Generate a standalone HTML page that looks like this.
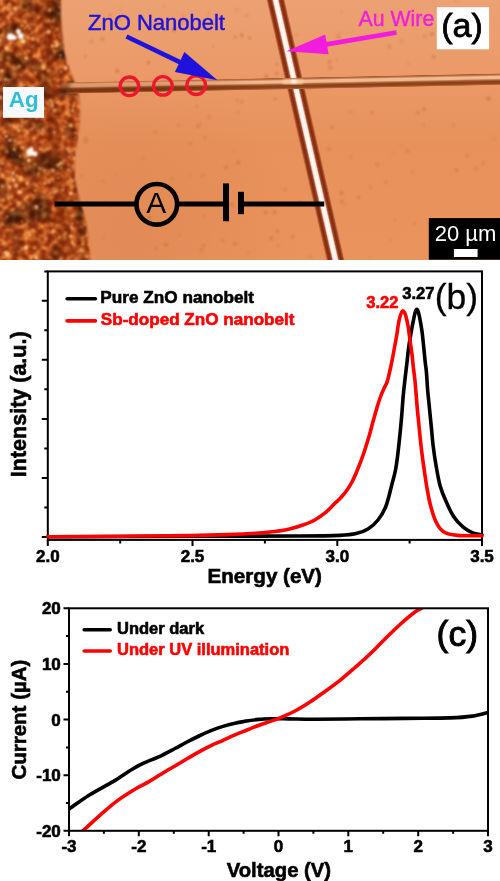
<!DOCTYPE html>
<html><head><meta charset="utf-8"><title>ZnO nanobelt figure</title>
<style>html,body{margin:0;padding:0;background:#fff;width:500px;height:881px;overflow:hidden}svg{display:block}</style></head><body>
<svg width="500" height="881" viewBox="0 0 500 881">
<rect width="500" height="881" fill="#fff"/>
<g id="pa">
<defs><clipPath id="clipA"><rect x="0" y="0" width="500" height="260"/></clipPath><linearGradient id="subg" x1="0" y1="0" x2="0" y2="1"><stop offset="0" stop-color="#ECA173"/><stop offset="0.28" stop-color="#EB9A68"/><stop offset="0.55" stop-color="#E8915B"/><stop offset="1" stop-color="#EA935D"/></linearGradient><radialGradient id="subr" cx="130" cy="240" r="170" gradientUnits="userSpaceOnUse"><stop offset="0" stop-color="#B05020" stop-opacity="0.13"/><stop offset="1" stop-color="#B05020" stop-opacity="0"/></radialGradient><filter id="agtex" x="0" y="0" width="100%" height="100%" color-interpolation-filters="sRGB"><feTurbulence type="fractalNoise" baseFrequency="0.17" numOctaves="2" seed="11" result="n"/><feColorMatrix in="n" type="matrix" values="1 0 0 0 0  1 0 0 0 0  1 0 0 0 0  0 0 0 0 1" result="g"/><feGaussianBlur in="g" stdDeviation="1.1" result="gb"/><feComponentTransfer in="gb" result="col"><feFuncR type="table" tableValues="0.42 0.42 0.47 0.54 0.62 0.71 0.81 0.9 0.95 0.98 1"/><feFuncG type="table" tableValues="0.12 0.12 0.14 0.18 0.23 0.3 0.4 0.52 0.64 0.74 0.84"/><feFuncB type="table" tableValues="0.03 0.03 0.04 0.05 0.07 0.11 0.16 0.24 0.34 0.44 0.54"/></feComponentTransfer><feTurbulence type="fractalNoise" baseFrequency="0.04" numOctaves="2" seed="4" result="lo"/><feColorMatrix in="lo" type="matrix" values="1.8 0 0 0 0.06  1.8 0 0 0 0.06  1.8 0 0 0 0.06  0 0 0 0 1" result="lom"/><feBlend in="col" in2="lom" mode="multiply" result="bl"/><feGaussianBlur in="bl" stdDeviation="0.6"/></filter><filter id="blur1"><feGaussianBlur stdDeviation="0.8"/></filter><filter id="blur2"><feGaussianBlur stdDeviation="1.6"/></filter><filter id="blur05"><feGaussianBlur stdDeviation="0.5"/></filter><filter id="blur07"><feGaussianBlur stdDeviation="0.7"/></filter><filter id="blur08" x="-0.1" y="-0.1" width="1.2" height="1.2"><feGaussianBlur stdDeviation="0.8"/></filter><linearGradient id="wireg" x1="0" y1="0" x2="0" y2="1"><stop offset="0" stop-color="#D27C4C"/><stop offset="0.1" stop-color="#963818"/><stop offset="0.2" stop-color="#7E2A10"/><stop offset="0.3" stop-color="#A84A28"/><stop offset="0.38" stop-color="#FAE6D8"/><stop offset="0.5" stop-color="#FFFFFF"/><stop offset="0.62" stop-color="#FAE6D8"/><stop offset="0.7" stop-color="#A84A28"/><stop offset="0.8" stop-color="#7E2A10"/><stop offset="0.9" stop-color="#963818"/><stop offset="1" stop-color="#D27C4C"/></linearGradient><linearGradient id="beltg" x1="0" y1="0" x2="0" y2="1"><stop offset="0" stop-color="#D08050" stop-opacity="0"/><stop offset="0.08" stop-color="#BE7044"/><stop offset="0.2" stop-color="#DEA074"/><stop offset="0.42" stop-color="#D8966A"/><stop offset="0.54" stop-color="#9A4C22"/><stop offset="0.66" stop-color="#7A3212"/><stop offset="0.86" stop-color="#7E3614"/><stop offset="0.95" stop-color="#B06436"/><stop offset="1" stop-color="#D08050" stop-opacity="0"/></linearGradient><linearGradient id="beltg2" x1="0" y1="0" x2="0" y2="1"><stop offset="0" stop-color="#D08050" stop-opacity="0"/><stop offset="0.06" stop-color="#A85A30"/><stop offset="0.16" stop-color="#C47A4C"/><stop offset="0.26" stop-color="#F0BC94"/><stop offset="0.44" stop-color="#EEB890"/><stop offset="0.55" stop-color="#B86838"/><stop offset="0.68" stop-color="#8A4018"/><stop offset="0.85" stop-color="#924620"/><stop offset="0.95" stop-color="#B86A3C"/><stop offset="1" stop-color="#D08050" stop-opacity="0"/></linearGradient><linearGradient id="beltfade2" x1="170" y1="0" x2="262" y2="0" gradientUnits="userSpaceOnUse"><stop offset="0" stop-color="#fff" stop-opacity="0"/><stop offset="1" stop-color="#fff" stop-opacity="1"/></linearGradient><mask id="beltmask2" maskUnits="userSpaceOnUse" x="0" y="0" width="500" height="260"><rect x="0" y="0" width="500" height="260" fill="url(#beltfade2)"/></mask></defs>
<g clip-path="url(#clipA)">
<rect x="0" y="0" width="500" height="260" fill="url(#subg)"/>
<rect x="0" y="0" width="500" height="260" fill="url(#subr)"/>
<g fill="#A85420" filter="url(#blur1)"><circle cx="341.6" cy="192.9" r="1.9" fill-opacity="0.39"/><circle cx="390.8" cy="239.8" r="1.0" fill-opacity="0.27"/><circle cx="476.2" cy="168.7" r="2.0" fill-opacity="0.18"/><circle cx="277.0" cy="64.1" r="1.6" fill-opacity="0.29"/><circle cx="85.5" cy="56.3" r="1.3" fill-opacity="0.38"/><circle cx="401.6" cy="41.5" r="1.9" fill-opacity="0.18"/><circle cx="339.3" cy="32.9" r="1.0" fill-opacity="0.37"/><circle cx="168.0" cy="56.0" r="2.1" fill-opacity="0.37"/><circle cx="201.5" cy="250.0" r="1.6" fill-opacity="0.32"/><circle cx="166.0" cy="244.7" r="1.8" fill-opacity="0.39"/><circle cx="455.4" cy="77.7" r="1.4" fill-opacity="0.19"/><circle cx="141.2" cy="16.9" r="1.3" fill-opacity="0.30"/><circle cx="81.4" cy="176.3" r="1.4" fill-opacity="0.23"/><circle cx="423.8" cy="125.0" r="1.3" fill-opacity="0.27"/><circle cx="376.0" cy="14.8" r="2.1" fill-opacity="0.16"/><circle cx="394.9" cy="219.7" r="1.0" fill-opacity="0.35"/><circle cx="233.8" cy="150.4" r="1.0" fill-opacity="0.16"/><circle cx="156.0" cy="248.3" r="1.2" fill-opacity="0.34"/><circle cx="470.5" cy="244.9" r="1.4" fill-opacity="0.24"/><circle cx="300.4" cy="201.7" r="1.1" fill-opacity="0.34"/><circle cx="414.8" cy="223.5" r="1.0" fill-opacity="0.39"/><circle cx="118.3" cy="88.6" r="1.7" fill-opacity="0.38"/><circle cx="222.8" cy="240.3" r="1.6" fill-opacity="0.23"/><circle cx="213.1" cy="46.1" r="1.1" fill-opacity="0.19"/><circle cx="369.5" cy="259.1" r="1.2" fill-opacity="0.16"/><circle cx="494.4" cy="138.7" r="1.4" fill-opacity="0.21"/><circle cx="329.5" cy="214.8" r="1.5" fill-opacity="0.26"/><circle cx="103.4" cy="238.2" r="1.0" fill-opacity="0.27"/><circle cx="432.1" cy="33.9" r="1.8" fill-opacity="0.39"/><circle cx="344.8" cy="204.9" r="1.1" fill-opacity="0.26"/><circle cx="142.7" cy="219.6" r="1.3" fill-opacity="0.26"/><circle cx="499.7" cy="221.6" r="2.1" fill-opacity="0.26"/><circle cx="285.0" cy="189.7" r="1.5" fill-opacity="0.22"/><circle cx="249.6" cy="38.1" r="1.4" fill-opacity="0.40"/><circle cx="483.1" cy="163.0" r="1.5" fill-opacity="0.23"/><circle cx="117.4" cy="70.8" r="1.9" fill-opacity="0.37"/><circle cx="231.8" cy="204.4" r="1.9" fill-opacity="0.32"/><circle cx="358.9" cy="197.5" r="1.4" fill-opacity="0.33"/><circle cx="198.0" cy="126.3" r="1.8" fill-opacity="0.32"/><circle cx="203.4" cy="245.8" r="1.7" fill-opacity="0.30"/><circle cx="84.9" cy="142.2" r="1.3" fill-opacity="0.32"/><circle cx="274.4" cy="212.3" r="1.7" fill-opacity="0.35"/><circle cx="226.1" cy="167.5" r="1.8" fill-opacity="0.36"/><circle cx="227.0" cy="219.1" r="2.0" fill-opacity="0.32"/><circle cx="490.0" cy="248.7" r="1.6" fill-opacity="0.28"/><circle cx="149.8" cy="217.5" r="2.0" fill-opacity="0.27"/><circle cx="370.4" cy="187.1" r="1.8" fill-opacity="0.19"/><circle cx="407.8" cy="151.0" r="1.7" fill-opacity="0.26"/><circle cx="342.0" cy="201.4" r="1.7" fill-opacity="0.33"/><circle cx="91.6" cy="41.6" r="1.5" fill-opacity="0.31"/><circle cx="172.0" cy="178.3" r="1.7" fill-opacity="0.16"/><circle cx="278.1" cy="58.8" r="1.1" fill-opacity="0.18"/><circle cx="213.3" cy="47.2" r="1.2" fill-opacity="0.16"/><circle cx="275.4" cy="98.9" r="1.7" fill-opacity="0.30"/><circle cx="179.9" cy="234.8" r="1.0" fill-opacity="0.25"/><circle cx="197.0" cy="106.6" r="1.1" fill-opacity="0.36"/><circle cx="237.0" cy="9.4" r="1.7" fill-opacity="0.17"/><circle cx="309.0" cy="88.2" r="1.6" fill-opacity="0.39"/><circle cx="423.8" cy="109.0" r="1.9" fill-opacity="0.31"/><circle cx="235.2" cy="36.9" r="1.7" fill-opacity="0.29"/><circle cx="482.0" cy="251.7" r="1.7" fill-opacity="0.24"/><circle cx="455.3" cy="0.2" r="1.1" fill-opacity="0.29"/><circle cx="338.4" cy="36.6" r="1.7" fill-opacity="0.37"/><circle cx="237.9" cy="112.2" r="1.2" fill-opacity="0.22"/><circle cx="488.4" cy="98.7" r="2.1" fill-opacity="0.38"/><circle cx="330.2" cy="67.6" r="2.1" fill-opacity="0.27"/><circle cx="254.5" cy="83.0" r="2.1" fill-opacity="0.27"/><circle cx="200.3" cy="124.0" r="1.1" fill-opacity="0.31"/><circle cx="266.3" cy="76.2" r="1.9" fill-opacity="0.36"/><circle cx="85.5" cy="138.5" r="1.3" fill-opacity="0.38"/><circle cx="408.4" cy="63.9" r="1.3" fill-opacity="0.19"/><circle cx="495.3" cy="76.2" r="1.7" fill-opacity="0.27"/><circle cx="350.8" cy="157.0" r="1.8" fill-opacity="0.18"/><circle cx="399.4" cy="78.2" r="1.6" fill-opacity="0.23"/><circle cx="204.7" cy="137.8" r="1.5" fill-opacity="0.24"/><circle cx="392.9" cy="153.6" r="1.0" fill-opacity="0.21"/><circle cx="271.4" cy="238.3" r="2.0" fill-opacity="0.29"/><circle cx="86.1" cy="202.4" r="1.5" fill-opacity="0.29"/><circle cx="377.4" cy="164.4" r="1.5" fill-opacity="0.38"/><circle cx="241.9" cy="101.9" r="1.9" fill-opacity="0.20"/><circle cx="204.5" cy="215.8" r="1.1" fill-opacity="0.36"/><circle cx="371.7" cy="112.5" r="1.3" fill-opacity="0.35"/><circle cx="462.5" cy="37.1" r="1.5" fill-opacity="0.29"/><circle cx="289.0" cy="86.0" r="1.2" fill-opacity="0.30"/><circle cx="421.0" cy="17.8" r="1.3" fill-opacity="0.35"/><circle cx="412.5" cy="172.5" r="1.0" fill-opacity="0.33"/><circle cx="491.0" cy="259.6" r="1.8" fill-opacity="0.16"/><circle cx="433.7" cy="57.0" r="1.7" fill-opacity="0.39"/><circle cx="379.2" cy="35.0" r="1.3" fill-opacity="0.38"/><circle cx="142.9" cy="158.8" r="1.5" fill-opacity="0.19"/><circle cx="341.4" cy="11.3" r="1.1" fill-opacity="0.24"/><circle cx="110.2" cy="15.0" r="1.6" fill-opacity="0.34"/><circle cx="449.0" cy="34.9" r="1.5" fill-opacity="0.23"/><circle cx="332.1" cy="127.3" r="2.0" fill-opacity="0.24"/><circle cx="103.4" cy="181.3" r="1.2" fill-opacity="0.31"/><circle cx="292.5" cy="236.7" r="1.6" fill-opacity="0.31"/><circle cx="190.6" cy="143.4" r="1.3" fill-opacity="0.34"/><circle cx="297.1" cy="34.8" r="1.3" fill-opacity="0.24"/><circle cx="389.4" cy="46.6" r="1.8" fill-opacity="0.31"/><circle cx="115.8" cy="173.7" r="1.1" fill-opacity="0.18"/><circle cx="329.5" cy="62.0" r="2.0" fill-opacity="0.27"/><circle cx="215.8" cy="207.1" r="1.0" fill-opacity="0.33"/><circle cx="102.5" cy="39.2" r="2.0" fill-opacity="0.32"/><circle cx="173.7" cy="30.2" r="2.1" fill-opacity="0.32"/><circle cx="424.7" cy="36.3" r="1.7" fill-opacity="0.24"/><circle cx="178.7" cy="86.6" r="1.7" fill-opacity="0.24"/><circle cx="242.0" cy="35.5" r="1.9" fill-opacity="0.31"/><circle cx="417.9" cy="112.7" r="1.9" fill-opacity="0.28"/><circle cx="328.9" cy="149.0" r="1.8" fill-opacity="0.25"/><circle cx="120.7" cy="8.6" r="1.2" fill-opacity="0.16"/><circle cx="453.5" cy="125.1" r="1.8" fill-opacity="0.15"/><circle cx="277.5" cy="231.3" r="1.7" fill-opacity="0.26"/><circle cx="275.5" cy="25.9" r="1.2" fill-opacity="0.19"/><circle cx="237.3" cy="100.3" r="2.0" fill-opacity="0.19"/><circle cx="186.7" cy="72.1" r="1.2" fill-opacity="0.22"/><circle cx="178.8" cy="125.3" r="1.0" fill-opacity="0.38"/><circle cx="235.0" cy="243.9" r="1.8" fill-opacity="0.32"/><circle cx="278.1" cy="245.8" r="1.1" fill-opacity="0.32"/><circle cx="202.3" cy="175.4" r="1.8" fill-opacity="0.19"/><circle cx="164.4" cy="6.5" r="1.3" fill-opacity="0.17"/><circle cx="248.4" cy="253.1" r="1.4" fill-opacity="0.23"/><circle cx="276.6" cy="73.6" r="1.8" fill-opacity="0.33"/><circle cx="148.6" cy="62.5" r="1.7" fill-opacity="0.39"/><circle cx="351.3" cy="112.0" r="2.1" fill-opacity="0.15"/><circle cx="105.6" cy="202.6" r="1.5" fill-opacity="0.16"/><circle cx="310.3" cy="257.3" r="1.6" fill-opacity="0.24"/><circle cx="119.4" cy="18.5" r="2.0" fill-opacity="0.27"/><circle cx="473.0" cy="14.0" r="1.3" fill-opacity="0.16"/><circle cx="246.9" cy="15.6" r="1.3" fill-opacity="0.25"/><circle cx="208.5" cy="13.3" r="1.0" fill-opacity="0.39"/><circle cx="155.3" cy="132.2" r="1.4" fill-opacity="0.28"/><circle cx="115.4" cy="81.6" r="1.1" fill-opacity="0.29"/><circle cx="466.9" cy="155.6" r="1.9" fill-opacity="0.20"/><circle cx="87.3" cy="140.3" r="1.5" fill-opacity="0.29"/><circle cx="238.2" cy="162.5" r="1.8" fill-opacity="0.38"/><circle cx="209.2" cy="116.8" r="1.9" fill-opacity="0.21"/><circle cx="128.6" cy="81.0" r="1.1" fill-opacity="0.34"/><circle cx="424.2" cy="81.3" r="1.1" fill-opacity="0.17"/><circle cx="182.8" cy="21.9" r="1.5" fill-opacity="0.29"/><circle cx="183.1" cy="16.0" r="1.8" fill-opacity="0.16"/><circle cx="163.9" cy="74.4" r="1.4" fill-opacity="0.17"/><circle cx="256.6" cy="81.6" r="1.8" fill-opacity="0.29"/><circle cx="456.4" cy="170.1" r="1.8" fill-opacity="0.29"/><circle cx="265.7" cy="212.4" r="1.7" fill-opacity="0.39"/><circle cx="385.8" cy="182.3" r="1.3" fill-opacity="0.35"/><circle cx="240.6" cy="33.9" r="1.1" fill-opacity="0.19"/><circle cx="190.3" cy="175.7" r="1.3" fill-opacity="0.17"/><circle cx="400.8" cy="144.9" r="1.0" fill-opacity="0.16"/><circle cx="134.6" cy="92.9" r="1.9" fill-opacity="0.39"/><circle cx="337.0" cy="60.1" r="1.5" fill-opacity="0.24"/></g>
<defs><mask id="clipAg" maskUnits="userSpaceOnUse" x="-10" y="-10" width="130" height="290"><path d="M-2 -2 L60.6 -2 C60.7 0.8 60.8 9.7 61.0 15.0 C61.2 20.3 61.6 25.0 62.0 30.0 C62.4 35.0 62.8 40.2 63.5 45.0 C64.2 49.8 64.6 54.0 66.0 59.0 C67.4 64.0 70.1 70.5 71.8 75.0 C73.5 79.5 74.8 82.3 76.0 86.0 C77.2 89.7 78.4 93.0 79.0 97.0 C79.6 101.0 79.7 105.8 79.8 110.0 C79.9 114.2 79.9 117.3 79.6 122.0 C79.3 126.7 78.5 132.7 77.8 138.0 C77.1 143.3 75.7 148.7 75.2 154.0 C74.7 159.3 74.5 164.8 74.6 170.0 C74.7 175.2 75.2 180.0 76.0 185.0 C76.8 190.0 78.2 195.0 79.6 200.0 C81.0 205.0 82.9 210.0 84.2 215.0 C85.5 220.0 86.6 225.0 87.4 230.0 C88.2 235.0 88.6 240.3 89.0 245.0 C89.4 249.7 89.6 255.2 89.8 258.0 C90.0 260.8 90.0 261.3 90.0 262.0 L-2 262 Z" fill="#fff" filter="url(#blur08)"/></mask></defs>
<g mask="url(#clipAg)">
<rect x="-10" y="-10" width="120" height="280" fill="#9A3C10"/>
<rect x="-10" y="-10" width="120" height="280" filter="url(#agtex)"/>
<path d="M40 0 C45 60 50 120 52 180 C55 220 60 250 62 262 L72 262 C70 240 66 200 62 160 C58 110 54 60 50 0 Z" fill="#6A2006" fill-opacity="0.35" filter="url(#blur2)"/>
<g filter="url(#blur08)"><circle cx="13.5" cy="180.1" r="1.6" fill="#FFE0A4" fill-opacity="0.88"/><circle cx="91.0" cy="123.3" r="2.0" fill="#FCC474" fill-opacity="0.73"/><circle cx="20.2" cy="-1.2" r="1.3" fill="#FAB868" fill-opacity="0.69"/><circle cx="11.6" cy="196.3" r="1.9" fill="#F4A050" fill-opacity="0.52"/><circle cx="91.8" cy="193.0" r="1.9" fill="#FAB868" fill-opacity="0.70"/><circle cx="87.9" cy="140.6" r="1.7" fill="#F4A050" fill-opacity="0.93"/><circle cx="32.6" cy="38.9" r="1.8" fill="#F8B060" fill-opacity="0.86"/><circle cx="-0.2" cy="40.5" r="1.7" fill="#FFE0A4" fill-opacity="0.72"/><circle cx="15.6" cy="7.8" r="1.9" fill="#FCC474" fill-opacity="0.53"/><circle cx="16.6" cy="175.9" r="1.8" fill="#F4A050" fill-opacity="0.84"/><circle cx="69.7" cy="151.3" r="1.7" fill="#F8B060" fill-opacity="0.75"/><circle cx="50.5" cy="100.4" r="1.3" fill="#FCC474" fill-opacity="0.90"/><circle cx="36.5" cy="94.4" r="1.4" fill="#FFE0A4" fill-opacity="0.64"/><circle cx="43.5" cy="68.1" r="1.8" fill="#FCC474" fill-opacity="0.82"/><circle cx="91.3" cy="128.9" r="1.4" fill="#FAB868" fill-opacity="0.77"/><circle cx="47.1" cy="148.9" r="1.3" fill="#FAB868" fill-opacity="0.55"/><circle cx="60.9" cy="163.4" r="1.8" fill="#FFD488" fill-opacity="0.66"/><circle cx="54.1" cy="78.9" r="1.0" fill="#F8B060" fill-opacity="0.92"/><circle cx="14.4" cy="111.2" r="1.1" fill="#F8B060" fill-opacity="0.80"/><circle cx="82.5" cy="251.0" r="1.3" fill="#FCC474" fill-opacity="0.93"/><circle cx="53.5" cy="231.2" r="1.4" fill="#FFE0A4" fill-opacity="0.80"/><circle cx="86.0" cy="62.9" r="1.5" fill="#FFE0A4" fill-opacity="0.86"/><circle cx="70.7" cy="125.6" r="1.8" fill="#F8B060" fill-opacity="0.88"/><circle cx="59.9" cy="7.2" r="1.2" fill="#FFE0A4" fill-opacity="0.53"/><circle cx="29.8" cy="235.4" r="2.0" fill="#F4A050" fill-opacity="0.83"/><circle cx="2.6" cy="34.9" r="1.6" fill="#F4A050" fill-opacity="0.72"/><circle cx="87.6" cy="235.5" r="1.3" fill="#FCC474" fill-opacity="0.90"/><circle cx="54.5" cy="110.5" r="1.5" fill="#FFE0A4" fill-opacity="0.64"/><circle cx="48.2" cy="70.9" r="1.7" fill="#F8B060" fill-opacity="0.67"/><circle cx="9.8" cy="186.9" r="1.2" fill="#FFD488" fill-opacity="0.79"/><circle cx="78.1" cy="152.3" r="1.2" fill="#FFE0A4" fill-opacity="0.84"/><circle cx="74.3" cy="34.6" r="1.1" fill="#FFE0A4" fill-opacity="0.54"/><circle cx="0.4" cy="116.0" r="1.1" fill="#F8B060" fill-opacity="0.79"/><circle cx="9.9" cy="140.2" r="1.3" fill="#FFE0A4" fill-opacity="0.90"/><circle cx="56.4" cy="45.9" r="1.8" fill="#FCC474" fill-opacity="0.82"/><circle cx="49.7" cy="10.2" r="1.7" fill="#F4A050" fill-opacity="0.85"/><circle cx="72.3" cy="0.1" r="1.4" fill="#F8B060" fill-opacity="0.68"/><circle cx="51.3" cy="223.6" r="1.2" fill="#F4A050" fill-opacity="0.77"/><circle cx="68.1" cy="62.6" r="1.1" fill="#F4A050" fill-opacity="0.91"/><circle cx="25.7" cy="130.8" r="1.5" fill="#FAB868" fill-opacity="0.54"/><circle cx="54.5" cy="132.2" r="1.7" fill="#FAB868" fill-opacity="0.64"/><circle cx="63.7" cy="136.8" r="1.5" fill="#F8B060" fill-opacity="0.78"/><circle cx="28.6" cy="51.1" r="1.0" fill="#F4A050" fill-opacity="0.95"/><circle cx="8.1" cy="18.1" r="1.0" fill="#FFE0A4" fill-opacity="0.73"/><circle cx="87.0" cy="177.5" r="1.7" fill="#FFE0A4" fill-opacity="0.73"/><circle cx="34.6" cy="104.0" r="1.1" fill="#F8B060" fill-opacity="0.80"/><circle cx="2.0" cy="70.8" r="1.5" fill="#FFE0A4" fill-opacity="0.83"/><circle cx="40.9" cy="60.4" r="1.3" fill="#FFE0A4" fill-opacity="0.60"/><circle cx="84.0" cy="170.7" r="0.9" fill="#FCC474" fill-opacity="0.72"/><circle cx="65.4" cy="233.1" r="1.8" fill="#F4A050" fill-opacity="0.78"/><circle cx="56.2" cy="191.0" r="1.6" fill="#F4A050" fill-opacity="0.62"/><circle cx="43.2" cy="129.7" r="1.2" fill="#FFE0A4" fill-opacity="0.87"/><circle cx="88.6" cy="259.2" r="0.9" fill="#FFD488" fill-opacity="0.59"/><circle cx="80.3" cy="187.1" r="1.0" fill="#FCC474" fill-opacity="0.54"/><circle cx="26.4" cy="247.1" r="1.7" fill="#FFE0A4" fill-opacity="0.94"/><circle cx="91.1" cy="41.9" r="1.4" fill="#F4A050" fill-opacity="0.65"/><circle cx="58.3" cy="178.0" r="1.2" fill="#F8B060" fill-opacity="0.64"/><circle cx="21.9" cy="221.2" r="1.1" fill="#F4A050" fill-opacity="0.73"/><circle cx="20.4" cy="179.7" r="1.7" fill="#FCC474" fill-opacity="0.92"/><circle cx="41.9" cy="113.3" r="1.6" fill="#FFD488" fill-opacity="0.80"/><circle cx="60.8" cy="162.1" r="1.0" fill="#FCC474" fill-opacity="0.52"/><circle cx="74.2" cy="244.8" r="1.7" fill="#F8B060" fill-opacity="0.53"/><circle cx="52.5" cy="103.1" r="1.4" fill="#FFE0A4" fill-opacity="0.61"/><circle cx="-1.3" cy="141.7" r="1.0" fill="#FFD488" fill-opacity="0.59"/><circle cx="32.8" cy="-1.2" r="1.1" fill="#FAB868" fill-opacity="0.86"/><circle cx="75.3" cy="137.8" r="1.0" fill="#FCC474" fill-opacity="0.69"/><circle cx="81.0" cy="62.5" r="1.5" fill="#FAB868" fill-opacity="0.92"/><circle cx="81.1" cy="2.6" r="1.5" fill="#F8B060" fill-opacity="0.70"/><circle cx="76.3" cy="259.1" r="1.6" fill="#FCC474" fill-opacity="0.53"/><circle cx="74.6" cy="158.1" r="1.6" fill="#FFE0A4" fill-opacity="0.81"/><circle cx="61.6" cy="38.3" r="1.1" fill="#FFD488" fill-opacity="0.63"/><circle cx="56.9" cy="233.0" r="1.0" fill="#F8B060" fill-opacity="0.58"/><circle cx="7.2" cy="216.7" r="1.3" fill="#FFD488" fill-opacity="0.53"/><circle cx="1.5" cy="128.7" r="1.6" fill="#F4A050" fill-opacity="0.68"/><circle cx="1.0" cy="59.4" r="1.3" fill="#FFD488" fill-opacity="0.68"/><circle cx="62.9" cy="190.1" r="1.5" fill="#F8B060" fill-opacity="0.65"/><circle cx="18.6" cy="130.7" r="1.7" fill="#FAB868" fill-opacity="0.74"/><circle cx="57.1" cy="44.0" r="1.7" fill="#FFE0A4" fill-opacity="0.72"/><circle cx="79.2" cy="114.6" r="0.9" fill="#FFD488" fill-opacity="0.81"/><circle cx="18.4" cy="203.3" r="1.9" fill="#FAB868" fill-opacity="0.77"/><circle cx="8.5" cy="80.0" r="1.1" fill="#FFE0A4" fill-opacity="0.92"/><circle cx="72.6" cy="1.0" r="1.3" fill="#FAB868" fill-opacity="0.62"/><circle cx="0.4" cy="97.3" r="1.7" fill="#FCC474" fill-opacity="0.92"/><circle cx="48.4" cy="230.8" r="1.1" fill="#FAB868" fill-opacity="0.75"/><circle cx="70.9" cy="193.3" r="1.9" fill="#FFD488" fill-opacity="0.91"/><circle cx="20.5" cy="156.2" r="1.3" fill="#F4A050" fill-opacity="0.87"/><circle cx="32.0" cy="32.6" r="0.9" fill="#FFE0A4" fill-opacity="0.93"/><circle cx="69.0" cy="257.9" r="1.7" fill="#F4A050" fill-opacity="0.55"/><circle cx="85.2" cy="136.1" r="1.9" fill="#FAB868" fill-opacity="0.63"/><circle cx="13.1" cy="172.8" r="1.6" fill="#FFE0A4" fill-opacity="0.85"/><circle cx="68.6" cy="169.8" r="1.2" fill="#FFE0A4" fill-opacity="0.87"/><circle cx="18.9" cy="124.0" r="0.9" fill="#FFE0A4" fill-opacity="0.59"/><circle cx="72.2" cy="86.7" r="1.4" fill="#FFD488" fill-opacity="0.83"/><circle cx="66.7" cy="260.3" r="1.3" fill="#FFE0A4" fill-opacity="0.51"/><circle cx="71.1" cy="226.8" r="1.2" fill="#FFE0A4" fill-opacity="0.59"/><circle cx="19.4" cy="191.8" r="1.8" fill="#FFE0A4" fill-opacity="0.80"/><circle cx="0.5" cy="239.9" r="1.0" fill="#FFD488" fill-opacity="0.71"/><circle cx="34.6" cy="163.9" r="1.6" fill="#F4A050" fill-opacity="0.53"/><circle cx="22.1" cy="25.6" r="1.6" fill="#F4A050" fill-opacity="0.85"/><circle cx="72.5" cy="243.0" r="1.1" fill="#FFD488" fill-opacity="0.90"/><circle cx="5.3" cy="79.3" r="1.6" fill="#FCC474" fill-opacity="0.84"/><circle cx="85.9" cy="25.5" r="1.6" fill="#F4A050" fill-opacity="0.60"/><circle cx="17.5" cy="129.4" r="1.7" fill="#FCC474" fill-opacity="0.51"/><circle cx="82.6" cy="241.3" r="1.5" fill="#F8B060" fill-opacity="0.59"/><circle cx="11.3" cy="13.2" r="1.7" fill="#FFE0A4" fill-opacity="0.53"/><circle cx="69.1" cy="156.9" r="1.5" fill="#F4A050" fill-opacity="0.60"/><circle cx="64.2" cy="126.8" r="1.5" fill="#FAB868" fill-opacity="0.67"/><circle cx="57.8" cy="165.8" r="1.3" fill="#FFD488" fill-opacity="0.68"/><circle cx="39.7" cy="169.1" r="1.7" fill="#FAB868" fill-opacity="0.60"/><circle cx="72.2" cy="3.2" r="1.6" fill="#FFE0A4" fill-opacity="0.88"/><circle cx="70.8" cy="236.2" r="1.7" fill="#FFD488" fill-opacity="0.72"/><circle cx="13.5" cy="209.0" r="1.3" fill="#FFD488" fill-opacity="0.63"/><circle cx="88.7" cy="118.6" r="1.1" fill="#F8B060" fill-opacity="0.78"/><circle cx="77.7" cy="56.3" r="1.0" fill="#FAB868" fill-opacity="0.79"/><circle cx="57.1" cy="30.3" r="1.0" fill="#F4A050" fill-opacity="0.81"/><circle cx="48.6" cy="20.4" r="1.2" fill="#FAB868" fill-opacity="0.76"/><circle cx="21.0" cy="112.0" r="1.8" fill="#FAB868" fill-opacity="0.81"/><circle cx="74.4" cy="103.5" r="2.0" fill="#F4A050" fill-opacity="0.66"/><circle cx="71.8" cy="7.1" r="1.4" fill="#FFE0A4" fill-opacity="0.85"/><circle cx="52.5" cy="46.1" r="1.9" fill="#F8B060" fill-opacity="0.85"/><circle cx="22.1" cy="122.5" r="1.2" fill="#FCC474" fill-opacity="0.63"/><circle cx="32.9" cy="127.6" r="1.2" fill="#FFD488" fill-opacity="0.52"/><circle cx="25.0" cy="21.9" r="1.3" fill="#FCC474" fill-opacity="0.84"/><circle cx="12.0" cy="79.4" r="1.0" fill="#F4A050" fill-opacity="0.80"/><circle cx="83.2" cy="11.0" r="1.7" fill="#FFE0A4" fill-opacity="0.73"/><circle cx="8.0" cy="254.7" r="1.1" fill="#FFD488" fill-opacity="0.83"/><circle cx="2.4" cy="163.3" r="1.6" fill="#FFE0A4" fill-opacity="0.58"/><circle cx="83.9" cy="110.3" r="1.1" fill="#F8B060" fill-opacity="0.60"/><circle cx="13.5" cy="252.4" r="0.9" fill="#FCC474" fill-opacity="0.88"/><circle cx="88.6" cy="63.7" r="1.3" fill="#FFE0A4" fill-opacity="0.59"/><circle cx="63.9" cy="235.3" r="1.1" fill="#FFD488" fill-opacity="0.72"/><circle cx="28.9" cy="233.3" r="1.8" fill="#FCC474" fill-opacity="0.63"/><circle cx="68.5" cy="181.9" r="1.7" fill="#F8B060" fill-opacity="0.90"/><circle cx="21.1" cy="261.1" r="1.3" fill="#FFE0A4" fill-opacity="0.87"/><circle cx="71.6" cy="188.5" r="0.9" fill="#FAB868" fill-opacity="0.62"/><circle cx="23.1" cy="207.7" r="1.6" fill="#F4A050" fill-opacity="0.60"/><circle cx="9.4" cy="4.4" r="1.1" fill="#FFE0A4" fill-opacity="0.94"/><circle cx="44.9" cy="183.2" r="1.5" fill="#FCC474" fill-opacity="0.79"/><circle cx="38.5" cy="173.3" r="1.2" fill="#FCC474" fill-opacity="0.73"/><circle cx="2.5" cy="186.3" r="1.7" fill="#FCC474" fill-opacity="0.70"/><circle cx="69.8" cy="10.8" r="1.6" fill="#F8B060" fill-opacity="0.58"/><circle cx="52.8" cy="170.3" r="1.9" fill="#FFD488" fill-opacity="0.69"/><circle cx="34.8" cy="190.3" r="1.0" fill="#FFD488" fill-opacity="0.50"/><circle cx="36.5" cy="207.0" r="1.9" fill="#FFE0A4" fill-opacity="0.78"/><circle cx="27.4" cy="183.3" r="1.8" fill="#FCC474" fill-opacity="0.74"/><circle cx="59.2" cy="164.4" r="1.1" fill="#FCC474" fill-opacity="0.87"/><circle cx="24.2" cy="204.8" r="0.9" fill="#FFD488" fill-opacity="0.52"/><circle cx="72.2" cy="181.0" r="1.5" fill="#F8B060" fill-opacity="0.86"/><circle cx="14.3" cy="149.3" r="1.5" fill="#FCC474" fill-opacity="0.88"/><circle cx="56.4" cy="42.6" r="1.7" fill="#F8B060" fill-opacity="0.58"/><circle cx="66.8" cy="106.9" r="1.3" fill="#F4A050" fill-opacity="0.68"/><circle cx="72.4" cy="223.7" r="1.7" fill="#F4A050" fill-opacity="0.52"/><circle cx="26.1" cy="58.1" r="1.8" fill="#FCC474" fill-opacity="0.95"/><circle cx="5.9" cy="252.6" r="1.9" fill="#FFE0A4" fill-opacity="0.82"/><circle cx="85.8" cy="46.4" r="1.7" fill="#FFE0A4" fill-opacity="0.94"/><circle cx="80.8" cy="238.7" r="1.0" fill="#F4A050" fill-opacity="0.75"/><circle cx="83.0" cy="244.3" r="1.8" fill="#F8B060" fill-opacity="0.78"/><circle cx="-1.2" cy="200.3" r="2.0" fill="#FAB868" fill-opacity="0.56"/><circle cx="57.7" cy="164.3" r="1.0" fill="#FFE0A4" fill-opacity="0.54"/><circle cx="36.3" cy="257.7" r="1.8" fill="#FFE0A4" fill-opacity="0.72"/><circle cx="22.9" cy="147.3" r="1.6" fill="#FCC474" fill-opacity="0.64"/><circle cx="85.2" cy="35.5" r="1.9" fill="#F4A050" fill-opacity="0.64"/><circle cx="22.6" cy="91.0" r="1.5" fill="#F8B060" fill-opacity="0.67"/><circle cx="46.0" cy="238.6" r="1.6" fill="#FCC474" fill-opacity="0.71"/><circle cx="42.4" cy="134.1" r="1.2" fill="#FAB868" fill-opacity="0.71"/><circle cx="70.5" cy="179.1" r="1.2" fill="#FAB868" fill-opacity="0.77"/><circle cx="43.4" cy="108.9" r="1.2" fill="#FFD488" fill-opacity="0.59"/><circle cx="14.9" cy="140.8" r="2.0" fill="#FCC474" fill-opacity="0.54"/><circle cx="66.0" cy="68.1" r="1.7" fill="#FFE0A4" fill-opacity="0.77"/><circle cx="23.4" cy="130.5" r="1.0" fill="#FAB868" fill-opacity="0.79"/><circle cx="57.1" cy="28.6" r="1.2" fill="#F8B060" fill-opacity="0.59"/><circle cx="48.6" cy="181.9" r="1.5" fill="#FAB868" fill-opacity="0.73"/><circle cx="73.0" cy="166.2" r="1.6" fill="#F4A050" fill-opacity="0.69"/><circle cx="62.3" cy="176.2" r="1.2" fill="#F4A050" fill-opacity="0.58"/><circle cx="16.1" cy="185.8" r="2.0" fill="#FFE0A4" fill-opacity="0.59"/><circle cx="61.0" cy="260.0" r="1.9" fill="#F4A050" fill-opacity="0.80"/><circle cx="35.3" cy="72.8" r="1.7" fill="#FCC474" fill-opacity="0.53"/><circle cx="32.1" cy="96.8" r="1.3" fill="#FFE0A4" fill-opacity="0.73"/><circle cx="22.8" cy="40.4" r="1.9" fill="#FCC474" fill-opacity="0.55"/><circle cx="59.6" cy="237.4" r="1.1" fill="#FAB868" fill-opacity="0.58"/><circle cx="53.9" cy="188.4" r="1.6" fill="#F8B060" fill-opacity="0.52"/><circle cx="2.8" cy="175.7" r="1.8" fill="#FAB868" fill-opacity="0.77"/><circle cx="13.8" cy="102.8" r="1.8" fill="#FFE0A4" fill-opacity="0.85"/><circle cx="90.3" cy="36.6" r="1.9" fill="#FFE0A4" fill-opacity="0.79"/><circle cx="40.1" cy="104.6" r="2.0" fill="#FFD488" fill-opacity="0.55"/><circle cx="61.0" cy="168.1" r="1.8" fill="#F8B060" fill-opacity="0.55"/><circle cx="29.7" cy="28.4" r="1.3" fill="#F4A050" fill-opacity="0.65"/><circle cx="35.7" cy="190.8" r="1.2" fill="#F4A050" fill-opacity="0.91"/><circle cx="3.1" cy="200.2" r="1.9" fill="#FAB868" fill-opacity="0.61"/><circle cx="31.6" cy="129.6" r="1.3" fill="#F8B060" fill-opacity="0.71"/><circle cx="36.7" cy="117.2" r="1.4" fill="#FFD488" fill-opacity="0.90"/><circle cx="73.3" cy="106.6" r="1.6" fill="#F8B060" fill-opacity="0.85"/><circle cx="67.6" cy="149.7" r="1.2" fill="#FFD488" fill-opacity="0.62"/><circle cx="72.7" cy="110.6" r="1.8" fill="#F4A050" fill-opacity="0.85"/><circle cx="33.7" cy="88.4" r="1.9" fill="#FCC474" fill-opacity="0.64"/><circle cx="77.1" cy="73.0" r="1.8" fill="#F4A050" fill-opacity="0.70"/><circle cx="88.4" cy="21.8" r="1.2" fill="#F4A050" fill-opacity="0.55"/><circle cx="44.8" cy="170.6" r="1.3" fill="#FFE0A4" fill-opacity="0.65"/><circle cx="19.4" cy="66.5" r="1.8" fill="#FCC474" fill-opacity="0.58"/><circle cx="68.5" cy="18.4" r="1.3" fill="#FFE0A4" fill-opacity="0.74"/><circle cx="88.8" cy="133.6" r="1.4" fill="#FAB868" fill-opacity="0.84"/><circle cx="11.6" cy="210.2" r="1.3" fill="#F4A050" fill-opacity="0.93"/><circle cx="44.4" cy="107.8" r="1.1" fill="#FFD488" fill-opacity="0.87"/><circle cx="-0.2" cy="169.2" r="1.1" fill="#FFD488" fill-opacity="0.77"/><circle cx="54.2" cy="192.2" r="1.5" fill="#FFE0A4" fill-opacity="0.63"/><circle cx="6.8" cy="151.8" r="1.2" fill="#F8B060" fill-opacity="0.81"/><circle cx="76.4" cy="62.5" r="1.4" fill="#FFE0A4" fill-opacity="0.69"/><circle cx="3.8" cy="257.4" r="1.7" fill="#FFD488" fill-opacity="0.51"/><circle cx="48.7" cy="31.8" r="2.0" fill="#FAB868" fill-opacity="0.93"/><circle cx="34.4" cy="247.6" r="1.4" fill="#F8B060" fill-opacity="0.76"/><circle cx="23.4" cy="163.9" r="1.0" fill="#F4A050" fill-opacity="0.64"/><circle cx="15.3" cy="9.0" r="2.0" fill="#FCC474" fill-opacity="0.76"/><circle cx="75.8" cy="133.1" r="1.1" fill="#FAB868" fill-opacity="0.74"/><circle cx="72.3" cy="256.3" r="1.2" fill="#F4A050" fill-opacity="0.79"/><circle cx="6.2" cy="136.4" r="1.3" fill="#FFE0A4" fill-opacity="0.85"/><circle cx="21.6" cy="126.2" r="1.6" fill="#FFD488" fill-opacity="0.61"/><circle cx="60.5" cy="55.3" r="1.1" fill="#FFE0A4" fill-opacity="0.82"/><circle cx="57.7" cy="102.3" r="1.5" fill="#F8B060" fill-opacity="0.74"/><circle cx="43.1" cy="66.3" r="1.9" fill="#FCC474" fill-opacity="0.58"/><circle cx="76.0" cy="34.7" r="1.9" fill="#FAB868" fill-opacity="0.60"/><circle cx="84.7" cy="165.6" r="1.1" fill="#FFD488" fill-opacity="0.88"/><circle cx="27.5" cy="226.3" r="1.0" fill="#FFD488" fill-opacity="0.63"/><circle cx="61.1" cy="71.9" r="1.3" fill="#FFD488" fill-opacity="0.59"/><circle cx="75.0" cy="46.4" r="1.8" fill="#FFD488" fill-opacity="0.89"/><circle cx="1.1" cy="205.1" r="1.2" fill="#FFD488" fill-opacity="0.79"/><circle cx="52.3" cy="105.5" r="1.6" fill="#FFD488" fill-opacity="0.65"/><circle cx="49.8" cy="194.1" r="1.0" fill="#F8B060" fill-opacity="0.86"/><circle cx="12.7" cy="175.6" r="1.4" fill="#FAB868" fill-opacity="0.57"/><circle cx="88.7" cy="113.2" r="1.7" fill="#FCC474" fill-opacity="0.57"/><circle cx="80.0" cy="134.6" r="0.9" fill="#FFE0A4" fill-opacity="0.55"/></g>
<g filter="url(#blur1)"><g fill="#FFF8F4"><circle cx="10.4" cy="36.8" r="3.6"/><circle cx="14" cy="37.5" r="2.6"/><circle cx="18.4" cy="31.5" r="2.4"/><circle cx="20.8" cy="36" r="3"/><circle cx="30" cy="152.2" r="3.6"/><circle cx="35" cy="153.8" r="2.6"/><circle cx="31.6" cy="148.6" r="1.6"/></g><g fill="#F8D080"><circle cx="23.2" cy="41.6" r="2.2"/><circle cx="6.4" cy="48" r="1.8"/><circle cx="28.8" cy="160.6" r="2"/></g></g>
</g>
<defs><linearGradient id="beltfade" x1="60" y1="0" x2="74" y2="0" gradientUnits="userSpaceOnUse"><stop offset="0" stop-color="#fff" stop-opacity="0"/><stop offset="1" stop-color="#fff" stop-opacity="1"/></linearGradient><mask id="beltmask" maskUnits="userSpaceOnUse" x="0" y="0" width="500" height="260"><rect x="0" y="0" width="500" height="260" fill="url(#beltfade)"/></mask></defs>
<g mask="url(#beltmask)"><g transform="translate(60.00 82.12) rotate(-1.163)"><rect x="0" y="0" width="445.0" height="12" fill="url(#beltg)"/></g></g>
<g mask="url(#beltmask2)"><g transform="translate(60.00 82.12) rotate(-1.163)"><rect x="0" y="0" width="445.0" height="12" fill="url(#beltg2)"/></g></g>
<g transform="translate(275.60 0.00) rotate(77.026)"><rect x="-20" y="-8.77" width="306.8" height="17.54" fill="url(#wireg)" transform="rotate(0)" /></g>
</g>
</g>
<g clip-path="url(#clipA)">
<g transform="translate(276.00 77.74) rotate(-1.163)"><rect x="0" y="0" width="30" height="12" fill="url(#beltg2)"/></g>
<g filter="url(#blur1)"><rect x="283" y="79.4" width="20" height="4.6" fill="#F6CCA6" fill-opacity="0.85"/><ellipse cx="294" cy="81.6" rx="3" ry="2.4" fill="#FFF4EA"/></g>
</g>
<g fill="none" stroke="#F0162C" stroke-width="3.3"><circle cx="129.4" cy="86.3" r="9.3"/><circle cx="162.9" cy="85.9" r="9.3"/><circle cx="196.2" cy="85.2" r="9.3"/></g>
<line x1="126.5" y1="36.5" x2="181.4" y2="62.9" stroke="#1E12DC" stroke-width="4.5"/><polygon points="217.5,80.2 174.9,71.9 184.4,52.1" fill="#1E12DC"/>
<text x="88" y="29.5" font-family='"Liberation Sans", Arial, sans-serif' font-size="22" fill="#1E12DC" stroke="#1E12DC" stroke-width="0.5">ZnO Nanobelt</text>
<line x1="396.5" y1="32.5" x2="324.9" y2="44.7" stroke="#F01EDC" stroke-width="4.8"/><polygon points="286.5,51.2 325.2,34.5 328.6,54.2" fill="#F01EDC"/>
<text x="358.5" y="26.3" font-family='"Liberation Sans", Arial, sans-serif' font-size="21.3" fill="#F01EDC" stroke="#F01EDC" stroke-width="0.4">Au Wire</text>
<g stroke="#000" fill="none"><line x1="54.5" y1="204" x2="136" y2="204" stroke-width="5"/><circle cx="156.8" cy="204.3" r="20.3" stroke-width="4.6"/><line x1="177" y1="204" x2="227" y2="204" stroke-width="5"/><line x1="226" y1="183.4" x2="226" y2="221.2" stroke-width="6"/><line x1="241" y1="191.8" x2="241" y2="214.2" stroke-width="6"/><line x1="241" y1="204" x2="324.2" y2="204" stroke-width="5"/></g>
<text x="156.2" y="213.2" text-anchor="middle" font-family='"Liberation Sans", Arial, sans-serif' font-size="30" fill="#000">A</text>
<rect x="3" y="87" width="41" height="30.8" fill="#F6F8FB"/>
<text x="23.8" y="107.2" text-anchor="middle" font-family='"Liberation Sans", Arial, sans-serif' font-weight="bold" font-size="22.4" fill="#30BED6">Ag</text>
<rect x="436.8" y="7.2" width="52.3" height="42.1" fill="#FFFFFF"/>
<text x="462" y="36.8" text-anchor="middle" font-family='"Liberation Sans", Arial, sans-serif' font-size="34" fill="#000" stroke="#000" stroke-width="0.8">(a)</text>
<rect x="428.8" y="218.1" width="71.2" height="41.6" fill="#000"/>
<text x="465.5" y="240.5" text-anchor="middle" font-family='"Liberation Sans", Arial, sans-serif' font-size="22" fill="#FFF">20 µm</text>
<rect x="453.9" y="249" width="23.7" height="8" fill="#FFF"/>
<g font-family='"Liberation Sans", Arial, sans-serif'>
<rect x="47.8" y="271.4" width="434.2" height="268.5" fill="none" stroke="#000" stroke-width="2"/>
<path d="M41.8 300.7H47.8 M41.8 359.8H47.8 M41.8 418.9H47.8 M41.8 478.0H47.8 M41.8 537.1H47.8 M44.3 271.5H47.8 M44.3 330.2H47.8 M44.3 389.3H47.8 M44.3 448.4H47.8 M44.3 507.5H47.8 M47.8 539.9V545.9 M192.5 539.9V545.9 M337.3 539.9V545.9 M482.0 539.9V545.9 M120.2 539.9V543.4 M264.9 539.9V543.4 M409.6 539.9V543.4" stroke="#000" stroke-width="2" fill="none"/>
<text x="47.8" y="562" text-anchor="middle" font-weight="bold" stroke="#000" stroke-width="0.6" font-size="17">2.0</text>
<text x="192.5" y="562" text-anchor="middle" font-weight="bold" stroke="#000" stroke-width="0.6" font-size="17">2.5</text>
<text x="337.3" y="562" text-anchor="middle" font-weight="bold" stroke="#000" stroke-width="0.6" font-size="17">3.0</text>
<text x="482.0" y="562" text-anchor="middle" font-weight="bold" stroke="#000" stroke-width="0.6" font-size="17">3.5</text>
<text x="264.75" y="583.4" text-anchor="middle" font-weight="bold" stroke="#000" stroke-width="0.6" font-size="20.6">Energy (eV)</text>
<text transform="translate(25.7 404.3) rotate(-90)" text-anchor="middle" font-weight="bold" stroke="#000" stroke-width="0.6" font-size="21.5">Intensity (a.u.)</text>
<path d="M48.0 536.7 C73.3 536.6 158.0 536.4 200.0 536.3 C242.0 536.2 276.7 536.1 300.0 536.0 C323.3 535.9 330.7 535.8 340.0 535.4 C349.3 535.0 351.3 534.7 356.0 533.6 C360.7 532.5 364.3 531.3 368.0 529.0 C371.7 526.7 375.0 523.8 378.0 520.0 C381.0 516.2 383.7 512.0 386.0 506.0 C388.3 500.0 390.4 490.0 392.0 484.0 C393.6 478.0 394.4 475.7 395.5 470.0 C396.6 464.3 397.3 458.7 398.3 450.0 C399.3 441.3 400.7 427.0 401.5 418.0 C402.3 409.0 402.6 402.3 403.2 396.0 C403.8 389.7 404.3 385.3 404.9 380.0 C405.5 374.7 406.2 369.3 406.8 364.0 C407.4 358.7 407.9 353.3 408.6 348.0 C409.3 342.7 410.4 336.8 411.2 332.0 C412.0 327.2 412.9 322.9 413.6 319.5 C414.3 316.1 414.9 313.2 415.4 311.5 C415.9 309.8 416.3 309.2 416.8 309.2 C417.3 309.2 417.7 309.8 418.2 311.5 C418.7 313.2 419.4 316.1 420.0 319.5 C420.6 322.9 421.5 327.2 422.1 332.0 C422.7 336.8 423.3 343.0 423.8 348.0 C424.3 353.0 424.8 358.0 425.2 362.0 C425.6 366.0 426.0 367.4 426.4 372.0 C426.8 376.6 427.1 383.2 427.6 389.3 C428.1 395.4 428.9 402.2 429.5 408.6 C430.1 415.0 430.8 421.4 431.4 427.8 C432.0 434.2 432.5 440.7 433.3 447.1 C434.1 453.5 435.1 460.0 436.2 466.4 C437.3 472.8 438.5 479.9 440.1 485.7 C441.7 491.5 443.6 496.0 445.9 501.1 C448.1 506.2 450.7 512.1 453.6 516.5 C456.5 520.9 460.0 524.5 463.2 527.2 C466.4 529.9 469.7 531.6 472.8 532.9 C475.9 534.2 480.5 534.6 482.0 535.0" fill="none" stroke="#000" stroke-width="3.6" stroke-linejoin="round" stroke-linecap="round"/>
<path d="M48.0 536.8 C60.0 536.7 96.3 536.4 120.0 536.2 C143.7 536.0 172.0 535.9 190.0 535.6 C208.0 535.3 217.0 535.0 228.0 534.6 C239.0 534.2 248.5 533.7 256.0 533.2 C263.5 532.7 267.2 532.5 272.8 531.8 C278.4 531.1 284.5 530.2 289.6 529.0 C294.7 527.8 299.4 526.3 303.6 524.8 C307.8 523.3 311.1 522.1 314.8 520.0 C318.5 517.9 322.7 514.9 326.0 512.2 C329.3 509.5 332.1 506.1 334.4 503.8 C336.7 501.5 338.1 500.6 340.0 498.5 C341.9 496.4 344.0 494.2 346.0 491.5 C348.0 488.8 350.0 485.8 352.0 482.0 C354.0 478.2 356.0 473.4 358.0 468.5 C360.0 463.6 362.2 457.8 364.0 452.5 C365.8 447.2 367.4 441.8 369.0 436.5 C370.6 431.2 371.9 425.5 373.3 420.5 C374.7 415.5 376.1 410.6 377.3 406.5 C378.6 402.4 379.7 399.0 380.8 396.0 C381.9 393.0 382.9 390.9 384.0 388.5 C385.1 386.1 386.3 384.4 387.2 381.6 C388.1 378.9 388.8 375.5 389.6 372.0 C390.4 368.5 391.2 364.8 392.0 360.8 C392.8 356.8 393.6 352.3 394.4 348.0 C395.2 343.7 396.1 339.0 396.8 335.0 C397.5 331.0 397.8 327.2 398.4 324.0 C399.0 320.8 399.5 318.2 400.2 316.0 C400.9 313.8 401.7 311.6 402.4 311.0 C403.1 310.4 403.6 311.4 404.2 312.2 C404.8 313.0 405.2 313.8 405.8 316.0 C406.4 318.2 407.3 321.6 408.0 325.6 C408.7 329.6 409.4 335.5 410.0 340.0 C410.6 344.5 411.2 348.3 411.8 352.8 C412.4 357.3 412.8 362.3 413.3 367.0 C413.8 371.7 414.3 374.1 415.0 381.0 C415.7 387.9 416.6 400.8 417.3 408.6 C418.0 416.4 418.6 421.4 419.2 427.8 C419.8 434.2 420.4 440.7 421.2 447.1 C421.9 453.5 422.8 460.0 423.7 466.4 C424.6 472.8 425.5 479.3 426.6 485.7 C427.7 492.1 428.8 498.9 430.4 505.0 C432.0 511.1 433.9 517.8 436.2 522.3 C438.4 526.8 440.4 529.8 443.9 532.0 C447.4 534.2 451.0 534.8 457.4 535.4 C463.8 536.0 477.9 535.7 482.0 535.8" fill="none" stroke="#FF0000" stroke-width="3.6" stroke-linejoin="round" stroke-linecap="round"/>
<line x1="67.1" y1="298.7" x2="95.4" y2="298.7" stroke="#000" stroke-width="3.6" stroke-linecap="round"/>
<text x="100.3" y="303" font-weight="bold" stroke="#000" stroke-width="0.6" font-size="17.2">Pure ZnO nanobelt</text>
<line x1="67.1" y1="320.9" x2="95.4" y2="320.9" stroke="#FF0000" stroke-width="3.6" stroke-linecap="round"/>
<text x="100.8" y="324.6" font-weight="bold" stroke="#FF0000" stroke-width="0.6" font-size="17.1" fill="#FF0000">Sb-doped ZnO nanobelt</text>
<text x="366.2" y="307.6" font-weight="bold" stroke="#FF0000" stroke-width="0.6" font-size="16.6" fill="#FF0000">3.22</text>
<text x="402.2" y="299.2" font-weight="bold" stroke="#000" stroke-width="0.6" font-size="16.6">3.27</text>
<text x="434.8" y="309.4" font-size="35.5" stroke="#000" stroke-width="0.3">(b)</text>
</g>
<g font-family='"Liberation Sans", Arial, sans-serif'>
<defs><clipPath id="clipC"><rect x="69.0" y="608.3" width="419.0" height="222.5"/></clipPath></defs>
<path d="M63.5 608.3H69.0 M63.5 663.9H69.0 M63.5 719.5H69.0 M63.5 775.2H69.0 M63.5 830.8H69.0 M66.0 636.1H69.0 M66.0 691.7H69.0 M66.0 747.4H69.0 M66.0 803.0H69.0 M69.0 830.8V836.3 M138.8 830.8V836.3 M208.7 830.8V836.3 M278.5 830.8V836.3 M348.3 830.8V836.3 M418.2 830.8V836.3 M488.0 830.8V836.3 M103.9 830.8V833.8 M173.8 830.8V833.8 M243.6 830.8V833.8 M313.4 830.8V833.8 M383.2 830.8V833.8 M453.1 830.8V833.8" stroke="#000" stroke-width="2" fill="none"/>
<g clip-path="url(#clipC)">
<path d="M67.0 809.8 C67.5 809.6 66.1 810.8 69.8 808.4 C73.5 806.0 81.8 799.7 89.0 795.2 C96.2 790.7 105.8 785.9 113.0 781.6 C120.2 777.3 127.0 772.3 132.2 769.2 C137.4 766.1 139.4 765.0 144.2 762.8 C149.0 760.6 155.9 758.2 161.0 755.8 C166.1 753.4 170.7 750.8 175.0 748.5 C179.3 746.2 183.0 744.1 187.0 742.0 C191.0 739.9 195.0 737.9 199.0 736.0 C203.0 734.1 207.0 732.3 211.0 730.7 C215.0 729.1 219.0 727.6 223.0 726.4 C227.0 725.2 231.0 724.2 235.0 723.3 C239.0 722.4 243.0 721.5 247.0 720.9 C251.0 720.2 255.0 719.8 259.0 719.4 C263.0 719.0 267.0 718.9 271.0 718.8 C275.0 718.7 279.0 718.7 283.0 718.7 C287.0 718.7 289.7 718.9 295.0 719.0 C300.3 719.1 304.2 719.2 315.0 719.2 C325.8 719.2 345.0 718.9 360.0 718.8 C375.0 718.7 390.0 718.5 405.0 718.4 C420.0 718.2 438.8 718.3 450.0 717.9 C461.2 717.5 466.2 717.0 472.5 716.1 C478.8 715.2 485.1 713.2 488.0 712.5 C490.9 711.8 489.7 711.9 490.0 711.8" fill="none" stroke="#000" stroke-width="3.6" stroke-linejoin="round" stroke-linecap="round"/>
<path d="M80.0 833.2 C80.5 832.8 79.5 833.8 83.0 830.7 C86.5 827.6 95.2 819.5 101.0 814.4 C106.8 809.3 111.8 804.8 117.8 800.4 C123.8 796.0 131.8 791.1 137.0 788.0 C142.2 784.9 144.2 784.4 149.0 781.6 C153.8 778.8 161.5 773.8 165.8 771.2 C170.1 768.6 171.5 768.1 175.0 766.0 C178.5 763.9 183.0 761.2 187.0 758.8 C191.0 756.4 195.0 754.0 199.0 751.8 C203.0 749.6 207.0 747.5 211.0 745.6 C215.0 743.7 219.0 742.1 223.0 740.3 C227.0 738.5 231.0 736.5 235.0 734.8 C239.0 733.1 243.0 731.6 247.0 730.0 C251.0 728.4 255.0 726.7 259.0 725.2 C263.0 723.7 267.0 722.5 271.0 721.1 C275.0 719.7 279.0 718.3 283.0 716.6 C287.0 714.9 290.5 713.4 295.0 711.0 C299.5 708.6 305.0 705.2 310.0 702.0 C315.0 698.8 320.0 695.1 325.0 691.5 C330.0 687.9 335.0 684.4 340.0 680.4 C345.0 676.4 350.0 671.9 355.0 667.5 C360.0 663.1 365.0 658.8 370.0 654.0 C375.0 649.2 380.0 643.9 385.0 639.0 C390.0 634.1 395.0 629.0 400.0 624.5 C405.0 620.0 411.2 614.8 415.0 612.0 C418.8 609.2 420.5 609.0 422.5 607.8 C424.5 606.5 426.2 605.0 427.0 604.5" fill="none" stroke="#FF0000" stroke-width="3.6" stroke-linejoin="round" stroke-linecap="round"/>
</g>
<rect x="69.0" y="608.3" width="419.0" height="222.5" fill="none" stroke="#000" stroke-width="2"/>
<text x="60.8" y="614.3" text-anchor="end" font-weight="bold" stroke="#000" stroke-width="0.6" font-size="17">20</text>
<text x="60.8" y="669.9" text-anchor="end" font-weight="bold" stroke="#000" stroke-width="0.6" font-size="17">10</text>
<text x="60.8" y="725.5" text-anchor="end" font-weight="bold" stroke="#000" stroke-width="0.6" font-size="17">0</text>
<text x="60.8" y="781.2" text-anchor="end" font-weight="bold" stroke="#000" stroke-width="0.6" font-size="17">-10</text>
<text x="60.8" y="836.8" text-anchor="end" font-weight="bold" stroke="#000" stroke-width="0.6" font-size="17">-20</text>
<text x="69.0" y="852.2" text-anchor="middle" font-weight="bold" stroke="#000" stroke-width="0.6" font-size="17">-3</text>
<text x="138.8" y="852.2" text-anchor="middle" font-weight="bold" stroke="#000" stroke-width="0.6" font-size="17">-2</text>
<text x="208.7" y="852.2" text-anchor="middle" font-weight="bold" stroke="#000" stroke-width="0.6" font-size="17">-1</text>
<text x="278.5" y="852.2" text-anchor="middle" font-weight="bold" stroke="#000" stroke-width="0.6" font-size="17">0</text>
<text x="348.3" y="852.2" text-anchor="middle" font-weight="bold" stroke="#000" stroke-width="0.6" font-size="17">1</text>
<text x="418.2" y="852.2" text-anchor="middle" font-weight="bold" stroke="#000" stroke-width="0.6" font-size="17">2</text>
<text x="488.0" y="852.2" text-anchor="middle" font-weight="bold" stroke="#000" stroke-width="0.6" font-size="17">3</text>
<text x="278.9" y="877" text-anchor="middle" font-weight="bold" stroke="#000" stroke-width="0.6" font-size="20.3">Voltage (V)</text>
<text transform="translate(26 719.6) rotate(-90)" text-anchor="middle" font-weight="bold" stroke="#000" stroke-width="0.6" font-size="20.5">Current (µA)</text>
<line x1="84.2" y1="629.7" x2="110.2" y2="629.7" stroke="#000" stroke-width="3.6" stroke-linecap="round"/>
<text x="117" y="634.2" font-weight="bold" stroke="#000" stroke-width="0.6" font-size="16.5">Under dark</text>
<line x1="84.2" y1="651" x2="110.2" y2="651" stroke="#FF0000" stroke-width="3.6" stroke-linecap="round"/>
<text x="117" y="655.2" font-weight="bold" stroke="#FF0000" stroke-width="0.6" font-size="16.5" fill="#FF0000">Under UV illumination</text>
<text x="436.6" y="645.6" font-size="35.5" stroke="#000" stroke-width="1">(c)</text>
</g>
</svg>
</body></html>
